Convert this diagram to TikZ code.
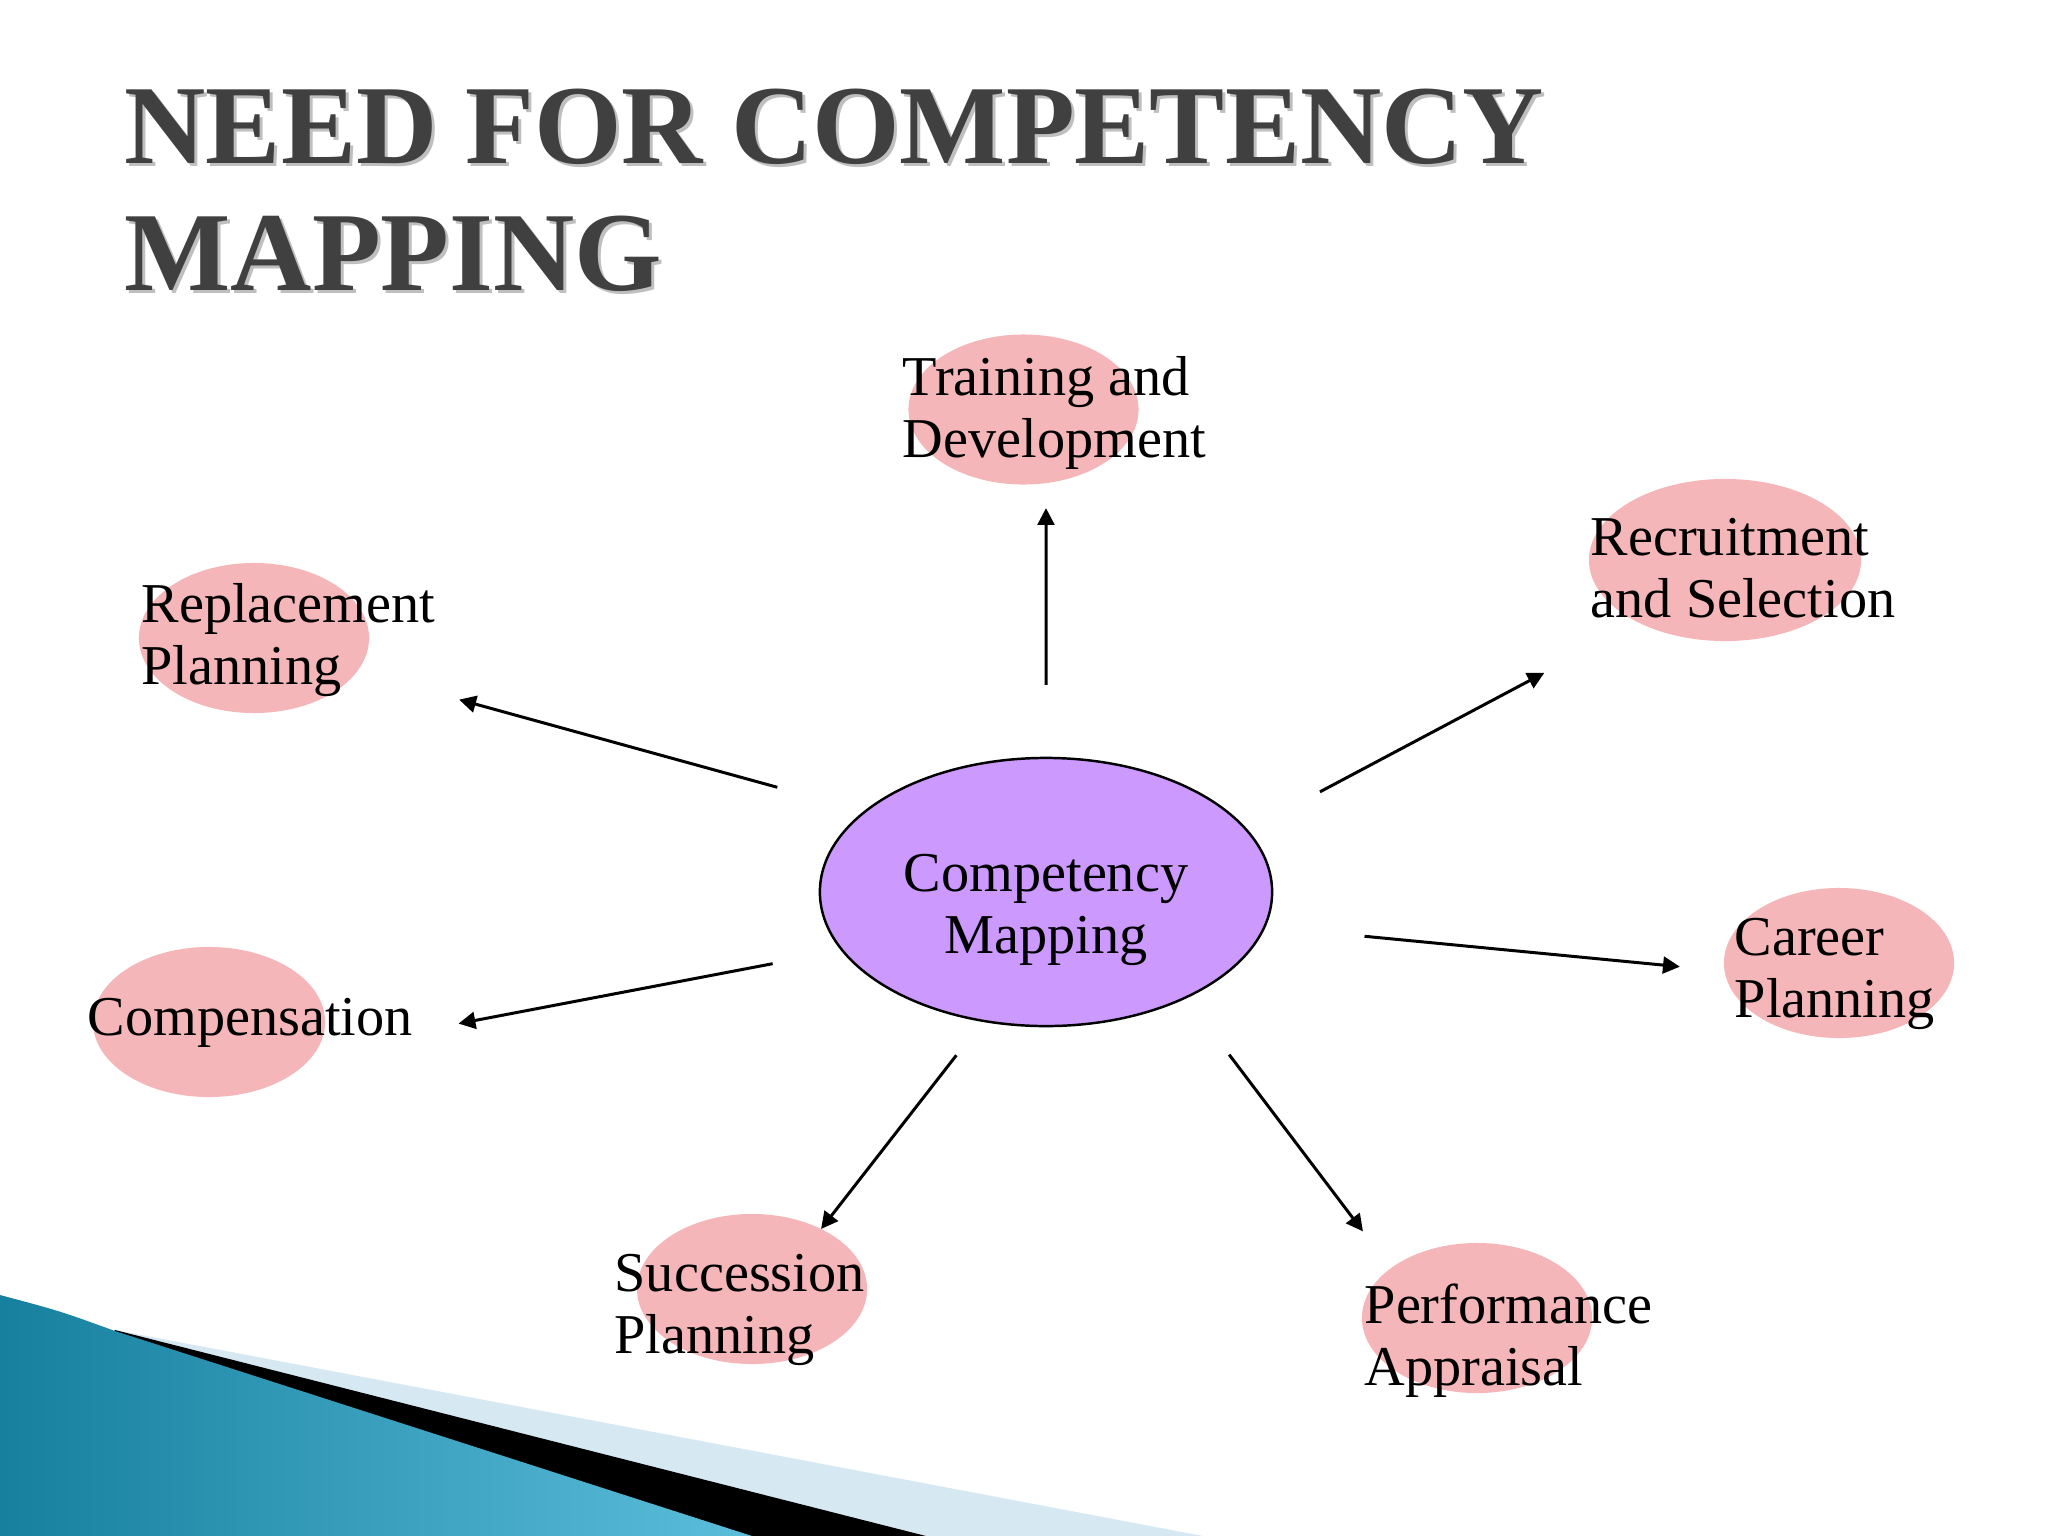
\documentclass[tikz,border=0pt]{standalone}
\usepackage{fontspec}
\setmainfont{Liberation Serif}
\usetikzlibrary{shapes, arrows.meta}
\definecolor{pinkfill}{HTML}{F4B6B8}
\definecolor{hubfill}{HTML}{CC99FF}
\definecolor{titlegray}{HTML}{404040}
\definecolor{tealdark}{HTML}{17809F}
\definecolor{teallight}{HTML}{5BBEDB}
\definecolor{paleblue}{HTML}{D6E8F1}
\tikzstyle{hub} = [ellipse, draw=black, line width=0.7pt, fill=hubfill, minimum width=4.52cm, minimum height=2.68cm, outer sep=0pt]
\tikzstyle{bubble} = [ellipse, fill=pinkfill, minimum width=2.3cm, minimum height=1.5cm, inner sep=0pt, outer sep=0pt]
\tikzstyle{bubbletext} = [anchor=base west, align=left, inner sep=0pt, font=\fontsize{16}{17.6}\selectfont]
\tikzstyle{heading} = [anchor=base west, align=left, inner sep=0pt, font=\bfseries\fontsize{32}{36.1}\selectfont]
\tikzstyle{arrow} = [line width=0.85pt, -{Triangle[length=4.8pt, width=4.8pt]}]
\begin{document}
\begin{tikzpicture}[x=0.01cm, y=-0.01cm]
    \fill[white] (0,0) rectangle (2048,1536);
    \useasboundingbox (0,0) rectangle (2048,1536);

    % corner swoosh
    \fill[paleblue] (115,1330) -- (1203,1536) -- (0,1536) -- cycle;
    \fill[black] (115,1330) -- (926,1536) -- (0,1536) -- cycle;
    \shade[left color=tealdark, right color=teallight] (0,1295) .. controls (60,1311) .. (115,1331) -- (752,1536) -- (0,1536) -- cycle;

    % title (base = last line)
    \node (titleshadow) [heading, text=black!25] at (127,293) {NEED FOR COMPETENCY\\MAPPING};
    \node (title) [heading, text=titlegray] at (124,290) {NEED FOR COMPETENCY\\MAPPING};

    \node (map) [hub] at (1046,892) {};
    \node (maptext) [bubbletext, anchor=base, align=center] at (1046,953) {Competency\\Mapping};

    \node (train) [bubble] at (1023.5,409.5) {};
    \node (recruit) [bubble, minimum width=2.72cm, minimum height=1.62cm] at (1725,560) {};
    \node (replace) [bubble] at (254,638) {};
    \node (comp) [bubble, minimum width=2.32cm] at (209,1022) {};
    \node (career) [bubble] at (1839,963) {};
    \node (succ) [bubble] at (752,1289) {};
    \node (perf) [bubble] at (1477,1318) {};

    \node (traintext) [bubbletext] at (902,457) {Training and\\Development};
    \node (recruittext) [bubbletext] at (1590,617) {Recruitment\\and Selection};
    \node (replacetext) [bubbletext] at (141,684) {Replacement\\Planning};
    \node (comptext) [bubbletext] at (87,1035) {Compensation};
    \node (careertext) [bubbletext] at (1734,1017) {Career\\Planning};
    \node (succtext) [bubbletext] at (614,1353) {Succession\\Planning};
    \node (perftext) [bubbletext] at (1364,1385) {Performance\\Appraisal};

    \draw [arrow, shorten <=0.73cm, shorten >=0.25cm] (map.90) -- (train.-73);
    \draw [arrow, shorten <=0.826cm, shorten >=1.068cm] (map.17.8) -- (recruit.-144.1);
    \draw [arrow, shorten <=0.911cm, shorten >=1.059cm] (map.156.8) -- (replace.-18.1);
    \draw [arrow, shorten <=0.71cm, shorten >=1.448cm] (map.196.9) -- (comp.-15.5);
    \draw [arrow, shorten <=1.005cm, shorten >=0.449cm] (map.-9.25) -- (career.184.1);
    \draw [arrow, shorten <=0.436cm] (map.-116.6) -- (succ.41);
    \draw [arrow, shorten <=0.718cm, shorten >=0.462cm] (map.-37.4) -- (perf.150.2);
\end{tikzpicture}
\end{document}
